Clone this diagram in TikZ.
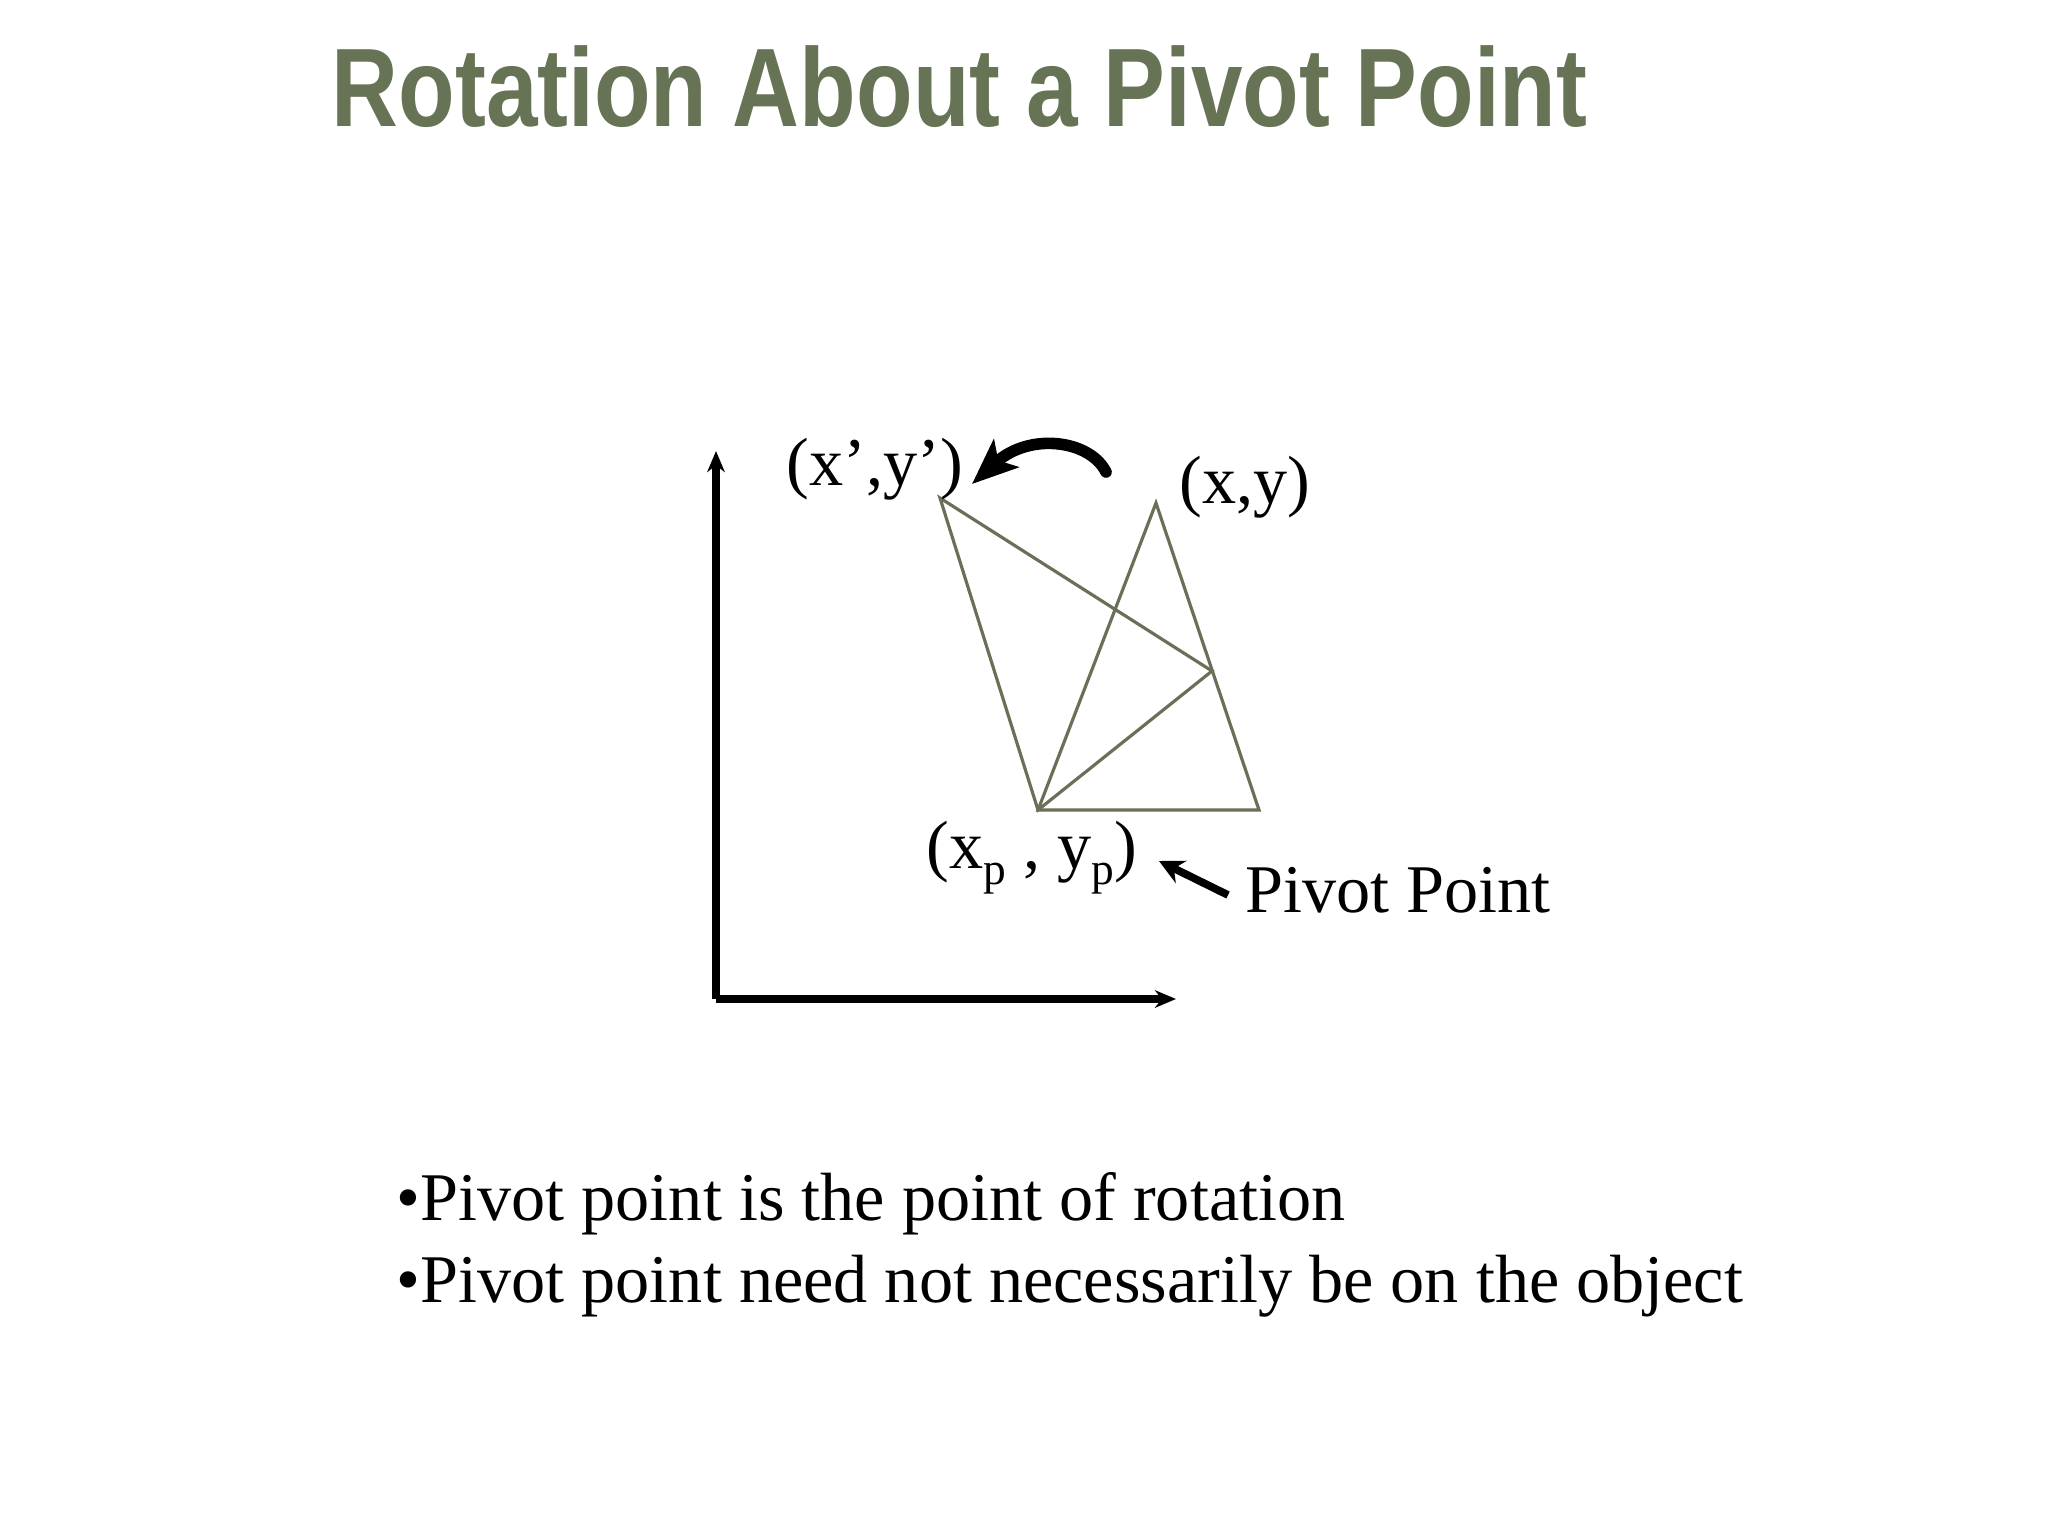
\documentclass[tikz,border=0pt]{standalone}
\usepackage{fontspec}
\usepackage{graphicx}
\setmainfont{Liberation Serif}
\newfontfamily\titlefont{Liberation Sans}
\usetikzlibrary{arrows.meta}
\definecolor{titlegreen}{RGB}{103,115,85}
\definecolor{trigray}{RGB}{108,110,88}
\newcommand{\bodysize}{\fontsize{19.4pt}{23pt}\selectfont}
\newcommand{\subp}{\raisebox{-4.8pt}{\fontsize{12.9pt}{14pt}\selectfont p}}
\tikzset{
  lbl/.style={inner sep=0pt, anchor=base west, font=\bodysize},
  tri/.style={draw=trigray, line width=0.9pt, line join=miter},
  axis/.style={line width=2pt, -{Stealth[length=6pt,width=5pt]}},
  rotarrow/.style={line width=3.3pt, line cap=round, -{Stealth[length=13pt,width=10.5pt,inset=3pt]}},
  pivarrow/.style={line width=2.2pt, -{Stealth[length=7pt,width=7pt]}}
}
\begin{document}
\begin{tikzpicture}[x=0.01cm,y=-0.01cm]
\useasboundingbox[fill=white] (0,0) rectangle (2048,1536);
% title
\node[inner sep=0pt, anchor=base west, text=titlegreen] (title) at (331,126)
  {\resizebox{357pt}{23pt}{\titlefont\bfseries Rotation About a Pivot Point}};
% axes
\coordinate (origin) at (716,999);
\coordinate (ytop) at (716,451);
\coordinate (xend) at (1176,999);
\draw[axis] (origin) -- (ytop);
\draw[axis] (origin) -- (xend);
% triangles
\coordinate (P) at (1038,810);
\coordinate (A) at (1259,810);
\coordinate (B) at (1156,503);
\coordinate (C) at (1212,671);
\coordinate (D) at (940,498);
\draw[tri] (P) -- (A) -- (B) -- cycle;
\draw[tri] (P) -- (C) -- (D) -- cycle;
% labels
\node[lbl] (xyprime) at (786,485) {(x’,y’)};
\node[lbl] (xy) at (1179,503) {(x,y)};
\node[lbl] (xpyp) at (926,868) {(x\subp{} , y\subp)};
\node[lbl] (pivot) at (1245,912) {Pivot Point};
% rotation arrow
\coordinate (rs) at (1106,472);
\coordinate (re) at (972,484);
\draw[rotarrow] (rs) .. controls (1090,440) and (1030,432) .. (re);
% pivot arrow
\coordinate (ps) at (1228,895);
\coordinate (pe) at (1159,861);
\draw[pivarrow] (ps) -- (pe);
% bullets
\node[lbl] (b1) at (396,1220) {•Pivot point is the point of rotation};
\node[lbl] (b2) at (396,1302) {•Pivot point need not necessarily be on the object};
\end{tikzpicture}
\end{document}
